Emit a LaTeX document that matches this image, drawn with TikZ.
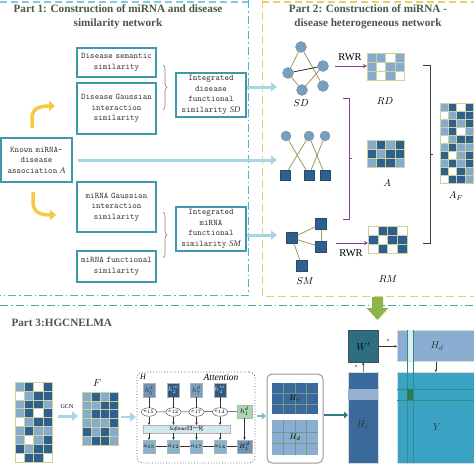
\documentclass[tikz,border=0pt]{standalone}
\usepackage{fontspec}
\setmainfont{Liberation Serif}
\newfontfamily\cjkfont{Noto Sans CJK SC}
\usetikzlibrary{arrows.meta,decorations.pathreplacing,shapes.geometric}
\definecolor{boxc}{HTML}{3E9AAB}
\definecolor{titc}{HTML}{4A5848}
\definecolor{txtc}{HTML}{3A3A3A}
\definecolor{arrl}{HTML}{A6D6E4}
\definecolor{yel}{HTML}{F6C945}
\definecolor{mD}{HTML}{2F5F8C}
\definecolor{mL}{HTML}{88AACB}
\definecolor{mW}{HTML}{FFFFFF}
\definecolor{gridc}{HTML}{C9D3A0}
\definecolor{purp}{HTML}{7B4B8E}
\definecolor{olivec}{HTML}{9A9A62}
\definecolor{nodeL}{HTML}{7A9FBD}
\definecolor{divb}{HTML}{4FB3CF}
\definecolor{divy}{HTML}{E9CF6A}
\definecolor{divt}{HTML}{4AA9A4}
\definecolor{hrc}{HTML}{3A6A9C}
\definecolor{hdc}{HTML}{8AAED2}
\definecolor{wpc}{HTML}{2E6E82}
\definecolor{yc}{HTML}{3AA3C3}
\definecolor{greenA}{HTML}{8DB54B}
\definecolor{hgreen}{HTML}{A9D8AE}
\definecolor{hmid}{HTML}{6F93B5}
\definecolor{hdark}{HTML}{2E5A80}
\definecolor{alc}{HTML}{86B4CC}
\definecolor{smc}{HTML}{D3E7F0}
\definecolor{gline}{HTML}{6E9A8A}
\definecolor{yline}{HTML}{2F8C86}
\definecolor{ycell}{HTML}{2E7A52}
\newcommand\mgrid[5]{%
  \foreach \row [count=\r from 0] in {#5}{%
    \foreach \c [count=\k from 0] in \row {%
      \filldraw[fill=m\c, draw=gridc, line width=0.5pt] ({#1+\k*#3},{#2+\r*#4}) rectangle ++(#3,#4);
    }}}
\begin{document}
\begin{tikzpicture}[x=1pt,y=-1pt,
  tbox/.style={draw=boxc,line width=1.6pt,align=center,inner sep=1pt,
    font=\ttfamily\fontsize{8.6}{10.5}\selectfont,text=txtc},
  ptitle/.style={font=\bfseries\fontsize{11.2}{14}\selectfont,text=titc},
  bigarr/.style={draw=arrl,line width=3pt,-{Triangle[length=6pt,width=9pt]}},
  yarr/.style={draw=yel,line width=3.5pt,-{Triangle[length=6pt,width=10pt]}},
  cnode/.style={circle,fill=nodeL,draw=nodeL!85!black,line width=0.3pt,minimum size=11pt,inner sep=0pt},
  lnode/.style={circle,fill=nodeL,draw=nodeL!85!black,line width=0.3pt,minimum size=10pt,inner sep=0pt},
  snode/.style={rectangle,fill=mD,draw=mD!80!black,line width=0.3pt,minimum size=10.5pt,inner sep=0pt},
  edge/.style={draw=olivec,line width=0.8pt},
  lab/.style={font=\fontsize{10}{12}\selectfont},
  mat/.style={inner sep=0pt,anchor=north west},
  hbox/.style={rectangle,minimum width=12pt,minimum height=14pt,inner sep=0pt,draw=gray!60,line width=0.4pt,font=\fontsize{7}{8}\selectfont},
  abox/.style={rectangle,fill=alc,minimum width=12pt,minimum height=13pt,inner sep=0pt,draw=gray!60,line width=0.4pt,font=\fontsize{6.5}{8}\selectfont},
  enode/.style={ellipse,fill=white,draw=gray!70!black,line width=0.5pt,minimum width=10pt,minimum height=8.5pt,inner sep=0pt,font=\fontsize{4}{5}\selectfont},
  tline/.style={draw=gray!40!black,line width=0.5pt},
  tarr/.style={draw=gray!40!black,line width=0.5pt,-{Stealth[length=2.5pt,width=2.5pt]}}
]
\useasboundingbox (0,0) rectangle (474,474);
\fill[white] (0,0) rectangle (474,474);

% ---------- dividers ----------
\draw[divb!70,line width=1.6pt,dash pattern=on 7pt off 4pt] (0,2) -- (250,2);
\draw[divy,line width=1.6pt,dash pattern=on 7pt off 4pt] (262,2) -- (474,2);
\draw[divb,line width=1pt,dash pattern=on 8pt off 3pt on 1.5pt off 3pt] (248,0) -- (248,295) -- (0,295);
\draw[divy,line width=1pt,dash pattern=on 8pt off 4pt] (262,0) -- (262,296) -- (474,296);
\draw[divt,line width=1pt,dash pattern=on 8pt off 3pt on 1.5pt off 3pt] (0,305) -- (474,305);

% ---------- Part 1 ----------
\node[ptitle,align=center] (t1) at (118,16.5) {Part 1: Construction of miRNA and disease\\similarity network};
\node[tbox,minimum width=79pt,minimum height=29pt,text width=75pt] (ds) at (116.5,62.5) {Disease semantic\\similarity};
\node[tbox,minimum width=79pt,minimum height=51pt,text width=75pt] (dg) at (116.5,108.5) {Disease Gaussian\\interaction\\similarity};
\node[tbox,minimum width=70pt,minimum height=44pt,text width=66pt] (isd) at (211,95) {Integrated\\disease\\functional\\similarity {\rmfamily\itshape SD}};
\node[tbox,minimum width=71pt,minimum height=44pt,text width=67pt] (kma) at (36.5,160) {Known miRNA-\\disease\\association {\rmfamily\itshape A}};
\node[tbox,minimum width=79pt,minimum height=50pt,text width=75pt] (mg) at (116.5,207) {miRNA Gaussian\\interaction\\similarity};
\node[tbox,minimum width=79pt,minimum height=31pt,text width=75pt] (mf) at (116.5,266.5) {miRNA functional\\similarity};
\node[tbox,minimum width=70pt,minimum height=44pt,text width=66pt] (ism) at (211,229) {Integrated\\miRNA\\functional\\similarity {\rmfamily\itshape SM}};

\draw[gray,line width=0.6pt,decorate,decoration={brace,amplitude=4pt}] (163,65) -- (163,110);
\draw[gray,line width=0.6pt,decorate,decoration={brace,amplitude=4pt}] (163,212) -- (163,258);

\coordinate (c1) at (32,128);
\coordinate (c2) at (55,106);
\draw[yarr] (c1) -- (32,119) .. controls (32,109) and (38,106) .. (c2);
\coordinate (c3) at (33,192);
\coordinate (c4) at (56,215);
\draw[yarr] (c3) -- (33,202) .. controls (33,212) and (40,215) .. (c4);

% ---------- Part 2 ----------
\node[ptitle,align=center] (t2) at (368,16.5) {Part 2: Construction of miRNA -\\disease heterogeneous network};

\node[cnode] (s1) at (301,47) {};
\node[cnode] (s2) at (288,73) {};
\node[cnode] (s3) at (323,66) {};
\node[cnode] (s4) at (302,90) {};
\node[cnode] (s5) at (323,86) {};
\draw[edge] (s1) -- (s2);
\draw[edge] (s1) -- (s5);
\draw[edge] (s3) -- (s4);
\draw[edge] (s2) -- (s4);
\draw[draw=black!80,line width=0.8pt] (s2) -- (s3);
\node[lab] (lsd) at (301,103) {$SD$};

\node[lnode] (b1) at (286,136) {};
\node[lnode] (b2) at (309,136) {};
\node[lnode] (b3) at (325,136) {};
\node[snode] (q1) at (285,175) {};
\node[snode] (q2) at (309,175) {};
\node[snode] (q3) at (325,175) {};
\draw[edge] (b1) -- (q2);
\draw[edge] (b2) -- (q1);
\draw[edge] (b2) -- (q3);
\draw[edge] (b3) -- (q2);

\node[snode,minimum size=11pt] (m1) at (292,238) {};
\node[snode,minimum size=11pt] (m2) at (321,224) {};
\node[snode,minimum size=11pt] (m3) at (321,247) {};
\node[snode,minimum size=11pt] (m4) at (302,266) {};
\draw[edge] (m1) -- (m2);
\draw[edge] (m1) -- (m3);
\draw[edge] (m2) -- (m3);
\draw[edge] (m1) -- (m4);
\node[lab] (lsm) at (305,281) {$SM$};

% part1 -> part2 arrows
\coordinate (e1) at (277,87);
\coordinate (e2) at (277,160);
\coordinate (e3) at (277,235);
\draw[bigarr] (isd.east |- e1) -- (e1);
\draw[bigarr,shorten <=5pt] (kma.east |- e2) -- (e2);
\draw[bigarr] (ism.east |- e3) -- (e3);

% matrices
\node[mat,minimum width=37pt,minimum height=27pt] (RD) at (367,53) {};
\mgrid{367}{53}{9.25}{9}{{L,L,W,L},{L,W,L,L},{L,W,L,W}}
\node[mat,minimum width=37pt,minimum height=27pt] (Am) at (367,140) {};
\mgrid{367}{140}{9.25}{9}{{L,D,L,D},{D,L,D,D},{L,D,D,L}}
\node[mat,minimum width=39pt,minimum height=27pt] (RM) at (368,226) {};
\mgrid{368}{226}{9.75}{9}{{W,D,D,W},{D,W,D,D},{W,D,W,D}}
\node[mat,minimum width=33pt,minimum height=80pt] (AF) at (440,103) {};
\mgrid{440}{103}{8.25}{8}{{L,D,W,D},{W,L,D,D},{L,D,L,D},{L,D,W,L},{W,L,D,D},{L,D,L,L},{D,W,L,D},{L,D,L,D},{D,W,D,L},{W,D,D,L}}

\node[lab] (lrd) at (385,101) {$RD$};
\node[lab] (la) at (387,183) {$A$};
\node[lab] (lrm) at (388,279) {$RM$};
\node[lab] (laf) at (456,196) {$A_F$};

\draw[purp,line width=0.9pt,-{Stealth[length=4pt,width=4pt]}] (335,66) -- (RD.west |- 0,66);
\node[font=\fontsize{10.5}{12}\selectfont] (rwr1) at (350,57) {RWR};
\draw[purp,line width=0.9pt,-{Stealth[length=4pt,width=4pt]}] (336,243) -- (RM.west |- 0,243);
\node[font=\fontsize{10.5}{12}\selectfont] (rwr2) at (351,253) {RWR};

\draw[purp,line width=1pt] (343,98) -- (349,98) -- (349,219) -- (343,219);
\draw[purp,line width=1pt] (349,158) -- (352,158);
\draw[black!75,line width=1pt] (423,65) -- (430,65) -- (430,243) -- (423,243);
\draw[black!75,line width=1pt] (430,154) -- (433,154);

% green arrow
\fill[greenA] (372,297) -- (383,297) -- (383,308) -- (388.5,308) -- (377.5,320) -- (366.5,308) -- (372,308) -- cycle;

% ---------- Part 3 ----------
\node[ptitle,anchor=west] (t3) at (8,323) {Part 3:HGCNELMA};

\node[mat,minimum width=37pt,minimum height=80pt] (lm) at (15,382) {};
\mgrid{15}{382}{9.25}{8.9}{{L,D,W,D},{W,L,D,D},{L,D,D,L},{L,D,W,D},{W,L,D,D},{L,D,L,L},{L,W,L,D},{D,L,D,D},{W,D,D,W}}
\node[mat,minimum width=36pt,minimum height=53pt] (F) at (82,392) {};
\mgrid{82}{392}{9}{8.83}{{L,D,L,D},{L,L,D,D},{L,D,D,D},{L,L,L,D},{D,L,D,L},{L,D,D,L}}
\node[lab] (lf) at (97,383) {$F$};

\draw[bigarr,shorten <=6pt,shorten >=4pt] (lm.east |- 0,416) -- (F.west |- 0,416);
\node[font=\fontsize{6}{7}\selectfont] (gcn) at (67,407) {GCN};
\draw[bigarr,line width=2.5pt,shorten <=3pt,shorten >=1pt] (F.east |- 0,417) -- (137,417);

\node[draw=gray!70!black,dotted,line width=0.8pt,rounded corners=6pt,minimum width=118pt,minimum height=91pt,inner sep=0pt] (att) at (196,417.5) {};
\node[font=\itshape\fontsize{8}{9}\selectfont] (lh) at (143,377) {H};
\node[font=\itshape\fontsize{9.5}{11}\selectfont] (lat) at (221,377) {Attention};

\foreach \i/\xx/\cc/\tc/\lb in {1/149/hmid/black!80/{h_5^d},2/173.5/hdark/white!85!blue/{h_2^m},3/196.5/nodeL/black!80/{h_7^d},4/220/hdark/white!85!blue/{h_4^m}}{
  \node[hbox,fill=\cc,text=\tc] (h\i) at (\xx,390) {$\lb$};
}
\node[hbox,fill=hgreen,minimum width=15pt,minimum height=13pt] (hg) at (244.5,411.5) {$h_1^d$};
\node[abox,fill=hmid,minimum width=15pt] (Hg) at (244.5,446.5) {$H_1^d$};

\draw[tline] (143,412) -- (hg.west);
\draw[tline] (143,446.5) -- (Hg.west);
\node[rectangle,fill=smc,draw=gray!60,line width=0.4pt,minimum width=87pt,minimum height=8pt,inner sep=0pt,font=\fontsize{5.5}{6}\selectfont] (sm) at (186.5,429) {{\itshape Softmax}{\cjkfont 归一化}};
\foreach \i/\xx/\lb in {1/149/{15},2/173.5/{12},3/196.5/{17},4/220/{14}}{
  \node[enode] (e\i) at (\xx,412) {$e_{\lb}$};
  \node[abox] (a\i) at (\xx,446.5) {$a_{\lb}$};
  \draw[tline] (h\i) -- (e\i);
  \draw[tarr] (e\i) -- (e\i |- sm.north);
  \draw[tarr] (a\i |- sm.south) -- (a\i);
}
\draw[tarr] (hg) -- (Hg);

\draw[draw=divb!80,line width=2.5pt,-{Triangle[length=4pt,width=7pt]}] (257,416) -- (266,416);

\node[draw=gray!80,line width=1pt,rounded corners=5pt,minimum width=56pt,minimum height=89pt,inner sep=0pt] (hb) at (295,418.5) {};
\node[mat,fill=hrc,minimum width=46pt,minimum height=31pt] (hr1) at (272,383) {};
\foreach \xx in {283.5,295,306.5} \draw[draw=gline,line width=0.4pt] (\xx,383) -- (\xx,414);
\foreach \yy in {393.3,403.7} \draw[draw=gline,line width=0.4pt] (272,\yy) -- (318,\yy);
\node[font=\fontsize{8}{9}\selectfont] (lhr1) at (295,398) {$H_r$};
\node[mat,fill=hdc,minimum width=46pt,minimum height=35pt] (hd1) at (272,420) {};
\foreach \xx in {283.5,295,306.5} \draw[draw=gline,line width=0.4pt] (\xx,420) -- (\xx,455);
\foreach \yy in {431.7,443.3} \draw[draw=gline,line width=0.4pt] (272,\yy) -- (318,\yy);
\node[font=\fontsize{8}{9}\selectfont] (lhd1) at (295,437) {$H_d$};

\node[mat,fill=hrc,draw=gray!30,line width=0.5pt,minimum width=30pt,minimum height=91pt] (Hr) at (348,372) {};
\fill[mL!90!white] (348,389) rectangle (378,400);
\node[font=\fontsize{10}{12}\selectfont,text=black!80] (lhr) at (363,425) {$H_r$};
\draw[draw=boxc!80!black,line width=2.5pt,-{Triangle[length=4pt,width=7pt]}] (hb.east |- 0,415) -- (Hr.west |- 0,415);

\node[mat,fill=wpc,draw=black!70,line width=0.6pt,minimum width=30pt,minimum height=32pt,font=\fontsize{10}{12}\selectfont] (Wp) at (348,330) {$W'$};
\node[mat,fill=hdc,draw=gray!30,line width=0.5pt,minimum width=77pt,minimum height=31pt] (Hd) at (397,330) {};
\fill[smc!80!white] (407,330) rectangle (413,361);
\node[font=\fontsize{10}{12}\selectfont,text=black!80] (lhd) at (437,346) {$H_d$};
\node[mat,fill=yc,draw=gray!30,line width=0.5pt,minimum width=77pt,minimum height=91pt] (Y) at (397,372) {};
\draw[draw=yline,line width=0.5pt] (407,330) -- (407,463);
\draw[draw=yline,line width=0.5pt] (413,330) -- (413,463);
\draw[draw=yline,line width=0.5pt] (397,389) -- (474,389);
\draw[draw=yline,line width=0.5pt] (397,400) -- (474,400);
\fill[ycell] (407,389) rectangle (413,400);
\node[font=\fontsize{10}{12}\selectfont,text=black!80] (ly) at (437,427) {$Y$};

\draw[tarr] (Hr.north) -- (Wp.south);
\draw[tarr] (Wp.east) -- (Wp.east -| Hd.west);
\draw[tarr] (Hd.south) -- (Y.north);
\node[font=\fontsize{6}{7}\selectfont] (x1) at (356,367) {×};
\node[font=\fontsize{6}{7}\selectfont] (x2) at (388,341) {×};
\end{tikzpicture}
\end{document}
